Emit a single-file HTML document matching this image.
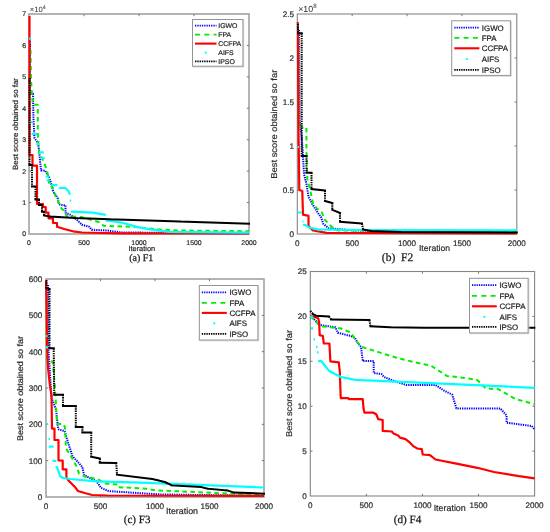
<!DOCTYPE html>
<html><head><meta charset="utf-8"><style>
html,body{margin:0;padding:0;background:#fff;}
body{width:550px;height:532px;overflow:hidden;font-family:"Liberation Sans", sans-serif;}
svg{display:block;will-change:transform;text-rendering:geometricPrecision;}
</style></head><body>
<svg width="550" height="532" viewBox="0 0 550 532">
<rect width="550" height="532" fill="#fff"/>
<clipPath id="c1"><rect x="28" y="13" width="222" height="222"/></clipPath>
<rect x="29" y="14" width="220" height="220" fill="none" stroke="#a2a2a2" stroke-width="1.6"/>
<text x="29" y="244.6" font-size="6.9" text-anchor="middle" font-family='"Liberation Sans", sans-serif' fill="#2a2a2a" stroke="#2a2a2a" stroke-width="0.2" >0</text>
<line x1="84" y1="234" x2="84" y2="231.8" stroke="#777" stroke-width="1"/>
<line x1="84" y1="14" x2="84" y2="16.2" stroke="#777" stroke-width="1"/>
<text x="84" y="244.6" font-size="6.9" text-anchor="middle" font-family='"Liberation Sans", sans-serif' fill="#2a2a2a" stroke="#2a2a2a" stroke-width="0.2" >500</text>
<line x1="139" y1="234" x2="139" y2="231.8" stroke="#777" stroke-width="1"/>
<line x1="139" y1="14" x2="139" y2="16.2" stroke="#777" stroke-width="1"/>
<text x="139" y="244.6" font-size="6.9" text-anchor="middle" font-family='"Liberation Sans", sans-serif' fill="#2a2a2a" stroke="#2a2a2a" stroke-width="0.2" >1000</text>
<line x1="194" y1="234" x2="194" y2="231.8" stroke="#777" stroke-width="1"/>
<line x1="194" y1="14" x2="194" y2="16.2" stroke="#777" stroke-width="1"/>
<text x="194" y="244.6" font-size="6.9" text-anchor="middle" font-family='"Liberation Sans", sans-serif' fill="#2a2a2a" stroke="#2a2a2a" stroke-width="0.2" >1500</text>
<text x="249" y="244.6" font-size="6.9" text-anchor="middle" font-family='"Liberation Sans", sans-serif' fill="#2a2a2a" stroke="#2a2a2a" stroke-width="0.2" >2000</text>
<text x="26.2" y="236.48" font-size="6.9" text-anchor="end" font-family='"Liberation Sans", sans-serif' fill="#2a2a2a" stroke="#2a2a2a" stroke-width="0.2" >0</text>
<line x1="29" y1="202.57" x2="31.2" y2="202.57" stroke="#777" stroke-width="1"/>
<line x1="249" y1="202.57" x2="246.8" y2="202.57" stroke="#777" stroke-width="1"/>
<text x="26.2" y="205.06" font-size="6.9" text-anchor="end" font-family='"Liberation Sans", sans-serif' fill="#2a2a2a" stroke="#2a2a2a" stroke-width="0.2" >1</text>
<line x1="29" y1="171.14" x2="31.2" y2="171.14" stroke="#777" stroke-width="1"/>
<line x1="249" y1="171.14" x2="246.8" y2="171.14" stroke="#777" stroke-width="1"/>
<text x="26.2" y="173.63" font-size="6.9" text-anchor="end" font-family='"Liberation Sans", sans-serif' fill="#2a2a2a" stroke="#2a2a2a" stroke-width="0.2" >2</text>
<line x1="29" y1="139.71" x2="31.2" y2="139.71" stroke="#777" stroke-width="1"/>
<line x1="249" y1="139.71" x2="246.8" y2="139.71" stroke="#777" stroke-width="1"/>
<text x="26.2" y="142.2" font-size="6.9" text-anchor="end" font-family='"Liberation Sans", sans-serif' fill="#2a2a2a" stroke="#2a2a2a" stroke-width="0.2" >3</text>
<line x1="29" y1="108.29" x2="31.2" y2="108.29" stroke="#777" stroke-width="1"/>
<line x1="249" y1="108.29" x2="246.8" y2="108.29" stroke="#777" stroke-width="1"/>
<text x="26.2" y="110.77" font-size="6.9" text-anchor="end" font-family='"Liberation Sans", sans-serif' fill="#2a2a2a" stroke="#2a2a2a" stroke-width="0.2" >4</text>
<line x1="29" y1="76.86" x2="31.2" y2="76.86" stroke="#777" stroke-width="1"/>
<line x1="249" y1="76.86" x2="246.8" y2="76.86" stroke="#777" stroke-width="1"/>
<text x="26.2" y="79.34" font-size="6.9" text-anchor="end" font-family='"Liberation Sans", sans-serif' fill="#2a2a2a" stroke="#2a2a2a" stroke-width="0.2" >5</text>
<line x1="29" y1="45.43" x2="31.2" y2="45.43" stroke="#777" stroke-width="1"/>
<line x1="249" y1="45.43" x2="246.8" y2="45.43" stroke="#777" stroke-width="1"/>
<text x="26.2" y="47.91" font-size="6.9" text-anchor="end" font-family='"Liberation Sans", sans-serif' fill="#2a2a2a" stroke="#2a2a2a" stroke-width="0.2" >6</text>
<text x="26.2" y="16.48" font-size="6.9" text-anchor="end" font-family='"Liberation Sans", sans-serif' fill="#2a2a2a" stroke="#2a2a2a" stroke-width="0.2" >7</text>
<g clip-path="url(#c1)" fill="none" stroke-linejoin="round">
<path d="M30,39 L30,93.8 L33,93.8 L33.5,120 L34.5,138 L38,143 L39,150 L41,170.4 L45,170.4 L49.4,177.9 L52.3,187.3 L53.2,192 L55,193.9 L57.9,198.6 L58.8,204.2 L62.6,205.2 L65.5,205.2 L65.5,212.7 L70.9,215 L77.5,220.4 L81.8,224.7 L89.5,226.9 L91.6,229.7 L106.9,230.5 L121.1,232.4 L180,233 L249,233.3" stroke="#0000ff" stroke-width="2" stroke-dasharray="1.3 1"/>
<path d="M30.5,50 L31,80 L32,95 L33,104.7 L37.8,104.7 L37.8,135 L39.1,152.6 L43.8,162 L46.6,169.5 L48.5,177 L49.4,186 L52.3,187 L55,195 L57.9,200.5 L61.7,208.9 L64.5,210.8 L66.5,216 L81.8,217.1 L100.4,222.5 L103.6,225.8 L134.2,226.9 L147.3,228.4 L162.6,229.7 L180,230.5 L249,231.2" stroke="#00ee00" stroke-width="2" stroke-dasharray="4.5 3.5"/>
<path d="M29.5,16 L29.5,155 L32.5,155 L32.5,165.7 L37,165.7 L37,204 L43,204 L43,207 L45.7,207 L45.7,212.7 L48.5,212.7 L48.5,218.3 L53,218.3 L53,223 L57,223 L57,226.8 L65,229.3 L73,231.3 L82,232.5 L120,233.3 L249,233.5" stroke="#ff0000" stroke-width="2.2"/>
<path d="M29,38.6 L31,38.6 M29.5,122.2 L32.5,122.2 M31.6,134 L37.2,134 M36.3,143.8 L39.1,143.8 M39.1,152.3 L43.8,152.3 M41,158 L44.7,158 M45.7,176.7 L49.4,176.7 M46.6,180.5 L49.4,180.5 M51.3,185.2 L57.5,185.2 M58.8,188 L65.4,188 L68.5,191 L70,194.6 M69.8,200.7 L71.2,200.7 M70.9,211.6 L92.7,212.7 L105.8,214.9 M105.8,220.4 L121.1,222.5 L129.8,224.7 L136.4,226.9 L151.6,229.7 L169.1,231.8 L249,232.7" stroke="#00ffff" stroke-width="2.2"/>
<path d="M29.5,78 L29.5,165 M32,165 L32,186.4 M35.5,186.4 L35.5,199.5 M39,199.5 L39,205 M42,205 L42,211.8 M44,211.8 L44,215.5" stroke="#000" stroke-width="2" stroke-dasharray="1.4 0.9"/>
<path d="M29.5,165 L32,165 M32,186.4 L35.5,186.4 M35.5,199.5 L39,199.5 M39,205 L42,205 M42,211.8 L44,211.8 M44,215.5 L44,215.5 M44,215.5 L50,216.5 M50,216.5 L75,218 M75,218 L110,219.3 M110,219.3 L180,221.5 M180,221.5 L249,223.8" stroke="#000" stroke-width="2" stroke-linecap="square"/>
</g>
<text x="141.8" y="251.4" font-size="7.4" text-anchor="middle" font-family='"Liberation Sans", sans-serif' fill="#2a2a2a" stroke="#2a2a2a" stroke-width="0.2" >Iteration</text>
<text x="0" y="0" font-size="7.6" text-anchor="middle" font-family='"Liberation Sans", sans-serif' fill="#2a2a2a" stroke="#2a2a2a" stroke-width="0.2" transform="translate(17.8,124) rotate(-90)" textLength="92" lengthAdjust="spacingAndGlyphs">Best score obtained so far</text>
<text x="141.3" y="261.4" font-size="10" text-anchor="middle" font-family='"Liberation Serif", serif' fill="#1a1a1a" stroke="#1a1a1a" stroke-width="0.25" xml:space="preserve">(a) F1</text>
<text x="29.8" y="11.6" font-size="7.6" font-family='"Liberation Sans", sans-serif' fill="#2a2a2a">&#215;10<tspan dy="-3.04" font-size="5.32">4</tspan></text>
<rect x="193.3" y="20.3" width="50.4" height="46.7" fill="none" stroke="#d0d0d0" stroke-width="1"/>
<rect x="192.5" y="19.5" width="50.4" height="46.7" fill="#fff" stroke="#949494" stroke-width="1"/>
<line x1="195" y1="25.6" x2="216.5" y2="25.6" stroke="#0000ff" stroke-width="1.8" stroke-dasharray="1.3 1"/>
<line x1="195" y1="34.6" x2="216.5" y2="34.6" stroke="#00ee00" stroke-width="1.8" stroke-dasharray="5 4.3"/>
<line x1="195" y1="43.6" x2="216.5" y2="43.6" stroke="#ff0000" stroke-width="2.1"/>
<rect x="204.75" y="51.6" width="2" height="2" fill="#00ffff"/>
<line x1="195" y1="61.4" x2="216.5" y2="61.4" stroke="#000" stroke-width="1.8" stroke-dasharray="1.4 0.9"/>
<text x="218.3" y="28.08" font-size="6.9" text-anchor="start" font-family='"Liberation Sans", sans-serif' fill="#222" stroke="#222" stroke-width="0.2" >IGWO</text>
<text x="218.3" y="37.08" font-size="6.9" text-anchor="start" font-family='"Liberation Sans", sans-serif' fill="#222" stroke="#222" stroke-width="0.2" >FPA</text>
<text x="218.3" y="46.08" font-size="6.9" text-anchor="start" font-family='"Liberation Sans", sans-serif' fill="#222" stroke="#222" stroke-width="0.2" >CCFPA</text>
<text x="218.3" y="55.08" font-size="6.9" text-anchor="start" font-family='"Liberation Sans", sans-serif' fill="#222" stroke="#222" stroke-width="0.2" >AIFS</text>
<text x="218.3" y="63.88" font-size="6.9" text-anchor="start" font-family='"Liberation Sans", sans-serif' fill="#222" stroke="#222" stroke-width="0.2" >IPSO</text>
<clipPath id="c2"><rect x="296.3" y="13" width="221.5" height="222"/></clipPath>
<rect x="297.3" y="14" width="219.5" height="220" fill="none" stroke="#858585" stroke-width="1.1"/>
<text x="297.3" y="246.1" font-size="8.1" text-anchor="middle" font-family='"Liberation Sans", sans-serif' fill="#2a2a2a" stroke="#2a2a2a" stroke-width="0.2" >0</text>
<line x1="352.18" y1="234" x2="352.18" y2="231.8" stroke="#777" stroke-width="1"/>
<line x1="352.18" y1="14" x2="352.18" y2="16.2" stroke="#777" stroke-width="1"/>
<text x="352.18" y="246.1" font-size="8.1" text-anchor="middle" font-family='"Liberation Sans", sans-serif' fill="#2a2a2a" stroke="#2a2a2a" stroke-width="0.2" >500</text>
<line x1="407.05" y1="234" x2="407.05" y2="231.8" stroke="#777" stroke-width="1"/>
<line x1="407.05" y1="14" x2="407.05" y2="16.2" stroke="#777" stroke-width="1"/>
<text x="407.05" y="246.1" font-size="8.1" text-anchor="middle" font-family='"Liberation Sans", sans-serif' fill="#2a2a2a" stroke="#2a2a2a" stroke-width="0.2" >1000</text>
<line x1="461.92" y1="234" x2="461.92" y2="231.8" stroke="#777" stroke-width="1"/>
<line x1="461.92" y1="14" x2="461.92" y2="16.2" stroke="#777" stroke-width="1"/>
<text x="461.92" y="246.1" font-size="8.1" text-anchor="middle" font-family='"Liberation Sans", sans-serif' fill="#2a2a2a" stroke="#2a2a2a" stroke-width="0.2" >1500</text>
<text x="516.8" y="246.1" font-size="8.1" text-anchor="middle" font-family='"Liberation Sans", sans-serif' fill="#2a2a2a" stroke="#2a2a2a" stroke-width="0.2" >2000</text>
<text x="294" y="236.92" font-size="8.1" text-anchor="end" font-family='"Liberation Sans", sans-serif' fill="#2a2a2a" stroke="#2a2a2a" stroke-width="0.2" >0</text>
<line x1="297.3" y1="190" x2="299.5" y2="190" stroke="#777" stroke-width="1"/>
<line x1="516.8" y1="190" x2="514.6" y2="190" stroke="#777" stroke-width="1"/>
<text x="294" y="192.92" font-size="8.1" text-anchor="end" font-family='"Liberation Sans", sans-serif' fill="#2a2a2a" stroke="#2a2a2a" stroke-width="0.2" >0.5</text>
<line x1="297.3" y1="146" x2="299.5" y2="146" stroke="#777" stroke-width="1"/>
<line x1="516.8" y1="146" x2="514.6" y2="146" stroke="#777" stroke-width="1"/>
<text x="294" y="148.92" font-size="8.1" text-anchor="end" font-family='"Liberation Sans", sans-serif' fill="#2a2a2a" stroke="#2a2a2a" stroke-width="0.2" >1</text>
<line x1="297.3" y1="102" x2="299.5" y2="102" stroke="#777" stroke-width="1"/>
<line x1="516.8" y1="102" x2="514.6" y2="102" stroke="#777" stroke-width="1"/>
<text x="294" y="104.92" font-size="8.1" text-anchor="end" font-family='"Liberation Sans", sans-serif' fill="#2a2a2a" stroke="#2a2a2a" stroke-width="0.2" >1.5</text>
<line x1="297.3" y1="58" x2="299.5" y2="58" stroke="#777" stroke-width="1"/>
<line x1="516.8" y1="58" x2="514.6" y2="58" stroke="#777" stroke-width="1"/>
<text x="294" y="60.92" font-size="8.1" text-anchor="end" font-family='"Liberation Sans", sans-serif' fill="#2a2a2a" stroke="#2a2a2a" stroke-width="0.2" >2</text>
<text x="294" y="16.92" font-size="8.1" text-anchor="end" font-family='"Liberation Sans", sans-serif' fill="#2a2a2a" stroke="#2a2a2a" stroke-width="0.2" >2.5</text>
<g clip-path="url(#c2)" fill="none" stroke-linejoin="round">
<path d="M299,30 L299.5,120 L301.8,138 L303,156 L304,174 L306.3,183.2 L308.5,196.7 L312,203.5 L317.6,212.5 L321,217 L323.2,223.8 L328.8,228.3 L355,230.5 L517,232.5" stroke="#0000ff" stroke-width="2" stroke-dasharray="1.3 1"/>
<path d="M298.5,40 L298.5,127.6 L306.4,127.6 L306.4,150 L307.4,181 L309.7,187.7 L313,203.5 L316.4,208 L322,212.5 L324.3,219.3 L328.8,223.8 L335,230 L340,230.5 L517,231.5" stroke="#00ee00" stroke-width="2" stroke-dasharray="4.5 3.5"/>
<path d="M297.8,22 L298.5,130 L299.3,190 L302.3,191 L303,214.7 L308.5,215.8 L308.5,226 L313,230.5 L326.5,232.8 L517,233.5" stroke="#ff0000" stroke-width="2.2"/>
<path d="M297.5,26 L299,26 M297.5,147 L299,147 M297.5,212.5 L301.8,212.5 M302.4,221.5 L303.4,221.5 M302.9,224.9 L305.2,224.9 L308.5,227.2 L317.6,229.4 L355,230 L517,230.4" stroke="#00ffff" stroke-width="2.2"/>
<path d="M298,24 L298,33.3 M301.7,33.3 L301.7,156 M306.5,156 L306.5,172.7 M311.5,172.7 L311.5,189 M325,190.5 L325,201 M332.3,203 L332.3,209.8 M340,213 L340,221.8 M362,223.5 L363,229.5" stroke="#000" stroke-width="2" stroke-dasharray="1.4 0.9"/>
<path d="M298,33.3 L301.7,33.3 M301.7,156 L306.5,156 M306.5,172.7 L311.5,172.7 M311.5,189 L311.5,189 M311.5,189 L325,190.5 M325,201 L332.3,203 M332.3,209.8 L340,213 M340,221.8 L362,223.5 M363,229.5 L371,231 M371,231 L400,232 M400,232 L517,232.6" stroke="#000" stroke-width="2" stroke-linecap="square"/>
</g>
<text x="434.5" y="250.8" font-size="8.6" text-anchor="middle" font-family='"Liberation Sans", sans-serif' fill="#2a2a2a" stroke="#2a2a2a" stroke-width="0.2" >Iteration</text>
<text x="0" y="0" font-size="8.6" text-anchor="middle" font-family='"Liberation Sans", sans-serif' fill="#2a2a2a" stroke="#2a2a2a" stroke-width="0.2" transform="translate(277.2,124.2) rotate(-90)" textLength="109" lengthAdjust="spacingAndGlyphs">Best score obtained so far</text>
<text x="397.5" y="261" font-size="11.5" text-anchor="middle" font-family='"Liberation Serif", serif' fill="#1a1a1a" stroke="#1a1a1a" stroke-width="0.25" xml:space="preserve">(b)  F2</text>
<text x="298.2" y="11.8" font-size="8.8" font-family='"Liberation Sans", sans-serif' fill="#2a2a2a">&#215;10<tspan dy="-3.52" font-size="6.16">8</tspan></text>
<rect x="452.5" y="21.6" width="58.7" height="54.6" fill="none" stroke="#d0d0d0" stroke-width="1"/>
<rect x="451.7" y="20.8" width="58.7" height="54.6" fill="#fff" stroke="#949494" stroke-width="1"/>
<line x1="454.3" y1="27.7" x2="479.4" y2="27.7" stroke="#0000ff" stroke-width="1.8" stroke-dasharray="1.3 1"/>
<line x1="454.3" y1="37.8" x2="479.4" y2="37.8" stroke="#00ee00" stroke-width="1.8" stroke-dasharray="5 4.3"/>
<line x1="454.3" y1="48.3" x2="479.4" y2="48.3" stroke="#ff0000" stroke-width="2.1"/>
<rect x="465.85" y="57.9" width="2" height="2" fill="#00ffff"/>
<line x1="454.3" y1="69.8" x2="479.4" y2="69.8" stroke="#000" stroke-width="1.8" stroke-dasharray="1.4 0.9"/>
<text x="481.8" y="30.54" font-size="7.9" text-anchor="start" font-family='"Liberation Sans", sans-serif' fill="#222" stroke="#222" stroke-width="0.2" >IGWO</text>
<text x="481.8" y="40.64" font-size="7.9" text-anchor="start" font-family='"Liberation Sans", sans-serif' fill="#222" stroke="#222" stroke-width="0.2" >FPA</text>
<text x="481.8" y="51.14" font-size="7.9" text-anchor="start" font-family='"Liberation Sans", sans-serif' fill="#222" stroke="#222" stroke-width="0.2" >CCFPA</text>
<text x="481.8" y="61.74" font-size="7.9" text-anchor="start" font-family='"Liberation Sans", sans-serif' fill="#222" stroke="#222" stroke-width="0.2" >AIFS</text>
<text x="481.8" y="72.64" font-size="7.9" text-anchor="start" font-family='"Liberation Sans", sans-serif' fill="#222" stroke="#222" stroke-width="0.2" >IPSO</text>
<clipPath id="c3"><rect x="45" y="278" width="220" height="220"/></clipPath>
<rect x="46" y="279" width="218" height="218" fill="none" stroke="#a2a2a2" stroke-width="1.6"/>
<text x="46" y="509.3" font-size="8.1" text-anchor="middle" font-family='"Liberation Sans", sans-serif' fill="#2a2a2a" stroke="#2a2a2a" stroke-width="0.2" >0</text>
<line x1="100.5" y1="497" x2="100.5" y2="494.8" stroke="#777" stroke-width="1"/>
<line x1="100.5" y1="279" x2="100.5" y2="281.2" stroke="#777" stroke-width="1"/>
<text x="100.5" y="509.3" font-size="8.1" text-anchor="middle" font-family='"Liberation Sans", sans-serif' fill="#2a2a2a" stroke="#2a2a2a" stroke-width="0.2" >500</text>
<line x1="155" y1="497" x2="155" y2="494.8" stroke="#777" stroke-width="1"/>
<line x1="155" y1="279" x2="155" y2="281.2" stroke="#777" stroke-width="1"/>
<text x="155" y="509.3" font-size="8.1" text-anchor="middle" font-family='"Liberation Sans", sans-serif' fill="#2a2a2a" stroke="#2a2a2a" stroke-width="0.2" >1000</text>
<line x1="209.5" y1="497" x2="209.5" y2="494.8" stroke="#777" stroke-width="1"/>
<line x1="209.5" y1="279" x2="209.5" y2="281.2" stroke="#777" stroke-width="1"/>
<text x="209.5" y="509.3" font-size="8.1" text-anchor="middle" font-family='"Liberation Sans", sans-serif' fill="#2a2a2a" stroke="#2a2a2a" stroke-width="0.2" >1500</text>
<text x="264" y="509.3" font-size="8.1" text-anchor="middle" font-family='"Liberation Sans", sans-serif' fill="#2a2a2a" stroke="#2a2a2a" stroke-width="0.2" >2000</text>
<text x="42.3" y="499.92" font-size="8.1" text-anchor="end" font-family='"Liberation Sans", sans-serif' fill="#2a2a2a" stroke="#2a2a2a" stroke-width="0.2" >0</text>
<line x1="46" y1="460.67" x2="48.2" y2="460.67" stroke="#777" stroke-width="1"/>
<line x1="264" y1="460.67" x2="261.8" y2="460.67" stroke="#777" stroke-width="1"/>
<text x="42.3" y="463.58" font-size="8.1" text-anchor="end" font-family='"Liberation Sans", sans-serif' fill="#2a2a2a" stroke="#2a2a2a" stroke-width="0.2" >100</text>
<line x1="46" y1="424.33" x2="48.2" y2="424.33" stroke="#777" stroke-width="1"/>
<line x1="264" y1="424.33" x2="261.8" y2="424.33" stroke="#777" stroke-width="1"/>
<text x="42.3" y="427.25" font-size="8.1" text-anchor="end" font-family='"Liberation Sans", sans-serif' fill="#2a2a2a" stroke="#2a2a2a" stroke-width="0.2" >200</text>
<line x1="46" y1="388" x2="48.2" y2="388" stroke="#777" stroke-width="1"/>
<line x1="264" y1="388" x2="261.8" y2="388" stroke="#777" stroke-width="1"/>
<text x="42.3" y="390.92" font-size="8.1" text-anchor="end" font-family='"Liberation Sans", sans-serif' fill="#2a2a2a" stroke="#2a2a2a" stroke-width="0.2" >300</text>
<line x1="46" y1="351.67" x2="48.2" y2="351.67" stroke="#777" stroke-width="1"/>
<line x1="264" y1="351.67" x2="261.8" y2="351.67" stroke="#777" stroke-width="1"/>
<text x="42.3" y="354.58" font-size="8.1" text-anchor="end" font-family='"Liberation Sans", sans-serif' fill="#2a2a2a" stroke="#2a2a2a" stroke-width="0.2" >400</text>
<line x1="46" y1="315.33" x2="48.2" y2="315.33" stroke="#777" stroke-width="1"/>
<line x1="264" y1="315.33" x2="261.8" y2="315.33" stroke="#777" stroke-width="1"/>
<text x="42.3" y="318.25" font-size="8.1" text-anchor="end" font-family='"Liberation Sans", sans-serif' fill="#2a2a2a" stroke="#2a2a2a" stroke-width="0.2" >500</text>
<text x="42.3" y="281.92" font-size="8.1" text-anchor="end" font-family='"Liberation Sans", sans-serif' fill="#2a2a2a" stroke="#2a2a2a" stroke-width="0.2" >600</text>
<g clip-path="url(#c3)" fill="none" stroke-linejoin="round">
<path d="M48,285 L48.5,350 L51.4,397.6 L56.1,409.8 L58,428 L58.9,429.5 L64.6,431 L68.2,443 L72.5,456.2 L82.4,467 L84,475 L96.5,481.3 L101,487.8 L108.5,491.1 L129.3,492.5 L162,494.5 L264,495.8" stroke="#0000ff" stroke-width="2" stroke-dasharray="1.3 1"/>
<path d="M46.5,300 L47,360 L53,362 L55.2,392 L57,423.9 L63,423.9 L64.9,427 L66,448.5 L70.4,455.1 L76.9,467.1 L79,473.6 L85.6,476.9 L97.6,479.1 L105,483.5 L117.5,484.5 L118,487.1 L145.7,488.7 L155.4,490.4 L194.7,492 L227.4,493.6 L264,494.6" stroke="#00ee00" stroke-width="2" stroke-dasharray="4.5 3.5"/>
<path d="M46,280.6 L46.5,300 L47,345 L48,368 L50,386 L51.5,395 L52,428.6 L54.5,428.6 L54.5,440 L58.5,440 L58.5,460.5 L62.7,460.5 L62.7,469.3 L66.4,469.3 L66.4,477 L68.2,480.2 L74.7,486.7 L78,491 L85.6,493.3 L92.2,495 L107.5,495.5 L264,496" stroke="#ff0000" stroke-width="2.2"/>
<path d="M46,336 L47.5,336 M46,347.4 L48,347.4 M46.5,424 L48,424 M48.5,439 L50,439 M48.8,446.7 L53.5,446.7 M52.5,460.8 L56.3,460.8 M55.5,467 L57,467 L60,476 L63,478 L70,479 L96.5,481.3 L140,482.6 L264,487.5" stroke="#00ffff" stroke-width="2.2"/>
<path d="M46.5,280 L46.5,288 M49.5,289 L49.5,348.3 M53.7,348.3 L54.2,394.8 M63,394.8 L63,406 M75.8,406 L75.8,427 M82.4,427 L82.4,432.4 M91.2,432.4 L91.2,456.8 M99.8,458.5 L99.8,462.7 M116.2,463 L117,474.7" stroke="#000" stroke-width="2" stroke-dasharray="1.4 0.9"/>
<path d="M46.5,288 L49.5,289 M49.5,348.3 L53.7,348.3 M54.2,394.8 L63,394.8 M63,406 L75.8,406 M75.8,427 L82.4,427 M82.4,432.4 L91.2,432.4 M91.2,456.8 L99.8,458.5 M99.8,462.7 L116.2,463 M117,474.7 L117,474.7 M117,474.7 L152.2,478.9 M152.2,478.9 L158.7,480.5 M158.7,480.5 L165.3,482.2 M165.3,482.2 L171.8,485.4 M171.8,485.4 L201.3,487.1 M201.3,487.1 L207.8,488.7 M207.8,488.7 L227.4,490.4 M227.4,490.4 L234,492.6 M234,492.6 L264,493.6" stroke="#000" stroke-width="2" stroke-linecap="square"/>
</g>
<text x="182" y="514.2" font-size="8.9" text-anchor="middle" font-family='"Liberation Sans", sans-serif' fill="#2a2a2a" stroke="#2a2a2a" stroke-width="0.2" >Iteration</text>
<text x="0" y="0" font-size="8.3" text-anchor="middle" font-family='"Liberation Sans", sans-serif' fill="#2a2a2a" stroke="#2a2a2a" stroke-width="0.2" transform="translate(23.3,388.5) rotate(-90)" textLength="105" lengthAdjust="spacingAndGlyphs">Best score obtained so far</text>
<text x="137.1" y="522.6" font-size="11.1" text-anchor="middle" font-family='"Liberation Serif", serif' fill="#1a1a1a" stroke="#1a1a1a" stroke-width="0.25" xml:space="preserve">(c) F3</text>
<rect x="200.1" y="286.3" width="58.6" height="54.5" fill="none" stroke="#d0d0d0" stroke-width="1"/>
<rect x="199.3" y="285.5" width="58.6" height="54.5" fill="#fff" stroke="#949494" stroke-width="1"/>
<line x1="201.8" y1="292.3" x2="226.8" y2="292.3" stroke="#0000ff" stroke-width="1.8" stroke-dasharray="1.3 1"/>
<line x1="201.8" y1="302.8" x2="226.8" y2="302.8" stroke="#00ee00" stroke-width="1.8" stroke-dasharray="5 4.3"/>
<line x1="201.8" y1="312.9" x2="226.8" y2="312.9" stroke="#ff0000" stroke-width="2.1"/>
<rect x="213.3" y="322.4" width="2" height="2" fill="#00ffff"/>
<line x1="201.8" y1="333.9" x2="226.8" y2="333.9" stroke="#000" stroke-width="1.8" stroke-dasharray="1.4 0.9"/>
<text x="229.4" y="295.14" font-size="7.9" text-anchor="start" font-family='"Liberation Sans", sans-serif' fill="#222" stroke="#222" stroke-width="0.2" >IGWO</text>
<text x="229.4" y="305.64" font-size="7.9" text-anchor="start" font-family='"Liberation Sans", sans-serif' fill="#222" stroke="#222" stroke-width="0.2" >FPA</text>
<text x="229.4" y="315.74" font-size="7.9" text-anchor="start" font-family='"Liberation Sans", sans-serif' fill="#222" stroke="#222" stroke-width="0.2" >CCFPA</text>
<text x="229.4" y="326.24" font-size="7.9" text-anchor="start" font-family='"Liberation Sans", sans-serif' fill="#222" stroke="#222" stroke-width="0.2" >AIFS</text>
<text x="229.4" y="336.74" font-size="7.9" text-anchor="start" font-family='"Liberation Sans", sans-serif' fill="#222" stroke="#222" stroke-width="0.2" >IPSO</text>
<clipPath id="c4"><rect x="309.3" y="270.5" width="226.3" height="226.5"/></clipPath>
<rect x="310.3" y="271.5" width="224.3" height="224.5" fill="none" stroke="#858585" stroke-width="1.1"/>
<text x="310.3" y="507.6" font-size="8.1" text-anchor="middle" font-family='"Liberation Sans", sans-serif' fill="#2a2a2a" stroke="#2a2a2a" stroke-width="0.2" >0</text>
<line x1="366.38" y1="496" x2="366.38" y2="493.8" stroke="#777" stroke-width="1"/>
<line x1="366.38" y1="271.5" x2="366.38" y2="273.7" stroke="#777" stroke-width="1"/>
<text x="366.38" y="507.6" font-size="8.1" text-anchor="middle" font-family='"Liberation Sans", sans-serif' fill="#2a2a2a" stroke="#2a2a2a" stroke-width="0.2" >500</text>
<line x1="422.45" y1="496" x2="422.45" y2="493.8" stroke="#777" stroke-width="1"/>
<line x1="422.45" y1="271.5" x2="422.45" y2="273.7" stroke="#777" stroke-width="1"/>
<text x="422.45" y="507.6" font-size="8.1" text-anchor="middle" font-family='"Liberation Sans", sans-serif' fill="#2a2a2a" stroke="#2a2a2a" stroke-width="0.2" >1000</text>
<line x1="478.53" y1="496" x2="478.53" y2="493.8" stroke="#777" stroke-width="1"/>
<line x1="478.53" y1="271.5" x2="478.53" y2="273.7" stroke="#777" stroke-width="1"/>
<text x="478.53" y="507.6" font-size="8.1" text-anchor="middle" font-family='"Liberation Sans", sans-serif' fill="#2a2a2a" stroke="#2a2a2a" stroke-width="0.2" >1500</text>
<text x="534.6" y="507.6" font-size="8.1" text-anchor="middle" font-family='"Liberation Sans", sans-serif' fill="#2a2a2a" stroke="#2a2a2a" stroke-width="0.2" >2000</text>
<text x="306.8" y="498.92" font-size="8.1" text-anchor="end" font-family='"Liberation Sans", sans-serif' fill="#2a2a2a" stroke="#2a2a2a" stroke-width="0.2" >0</text>
<line x1="310.3" y1="451.1" x2="312.5" y2="451.1" stroke="#777" stroke-width="1"/>
<line x1="534.6" y1="451.1" x2="532.4" y2="451.1" stroke="#777" stroke-width="1"/>
<text x="306.8" y="454.02" font-size="8.1" text-anchor="end" font-family='"Liberation Sans", sans-serif' fill="#2a2a2a" stroke="#2a2a2a" stroke-width="0.2" >5</text>
<line x1="310.3" y1="406.2" x2="312.5" y2="406.2" stroke="#777" stroke-width="1"/>
<line x1="534.6" y1="406.2" x2="532.4" y2="406.2" stroke="#777" stroke-width="1"/>
<text x="306.8" y="409.12" font-size="8.1" text-anchor="end" font-family='"Liberation Sans", sans-serif' fill="#2a2a2a" stroke="#2a2a2a" stroke-width="0.2" >10</text>
<line x1="310.3" y1="361.3" x2="312.5" y2="361.3" stroke="#777" stroke-width="1"/>
<line x1="534.6" y1="361.3" x2="532.4" y2="361.3" stroke="#777" stroke-width="1"/>
<text x="306.8" y="364.22" font-size="8.1" text-anchor="end" font-family='"Liberation Sans", sans-serif' fill="#2a2a2a" stroke="#2a2a2a" stroke-width="0.2" >15</text>
<line x1="310.3" y1="316.4" x2="312.5" y2="316.4" stroke="#777" stroke-width="1"/>
<line x1="534.6" y1="316.4" x2="532.4" y2="316.4" stroke="#777" stroke-width="1"/>
<text x="306.8" y="319.32" font-size="8.1" text-anchor="end" font-family='"Liberation Sans", sans-serif' fill="#2a2a2a" stroke="#2a2a2a" stroke-width="0.2" >20</text>
<text x="306.8" y="274.42" font-size="8.1" text-anchor="end" font-family='"Liberation Sans", sans-serif' fill="#2a2a2a" stroke="#2a2a2a" stroke-width="0.2" >25</text>
<g clip-path="url(#c4)" fill="none" stroke-linejoin="round">
<path d="M310.5,316 L320.3,325.1 L335.5,327.3 L337.7,332.7 L350.8,336 L355,338 L357.4,342.5 L361,347 L362.8,361.1 L373.7,361.1 L373.7,373.1 L381.4,374 L384,377 L393.4,380.7 L406.2,385 L435.5,385 L443.8,390.5 L452.2,394.6 L456.4,408.4 L500.3,408.4 L506.6,415.5 L506.6,422.7 L531.7,426 L534.6,429.4" stroke="#0000ff" stroke-width="2" stroke-dasharray="1.3 1"/>
<path d="M310.5,316 L320.3,326.2 L341,328.4 L350.8,332.7 L357.4,342.5 L361.7,346.9 L379.2,352.4 L396.6,357.8 L415,362.3 L430.9,365.7 L446.8,375.9 L466.1,378.2 L477.3,380 L485.7,388.4 L498.2,389.2 L514.9,398.8 L534.6,404.3" stroke="#00ee00" stroke-width="2" stroke-dasharray="4.5 3.5"/>
<path d="M310.5,315.8 L318.2,318.2 L319.1,321.9 L319.7,335.1 L322.9,336 L323.8,343.5 L329.4,343.5 L330.4,361.4 L338.8,362.3 L339.8,371.7 L340.7,397.1 L340.9,398.2 L348.2,398.2 L349.1,399.1 L362.7,399.1 L363.6,409.1 L364.5,412.7 L373.6,412.7 L376.4,414.5 L378.2,419.1 L382.7,420 L382.7,430.9 L391.8,431.5 L393.6,433.6 L398.2,435.5 L400,437.6 L405.5,439.1 L410,442.7 L413.6,446.4 L417.3,448.5 L421.8,449.1 L422.7,454.5 L430,455.1 L435.5,459.5 L456.4,463.6 L477.3,467.8 L494,472 L519.1,476.2 L534.6,478.3" stroke="#ff0000" stroke-width="2.2"/>
<path d="M310.5,316 L313,318 M311,328.4 L313,328.4 M313.5,339.3 L315,339.3 M316,346.9 L317.5,346.9 M317,352.4 L318.5,352.4 M318.1,361.1 L321.4,361.1 L322,362 L329,370.9 L340.5,376.8 L355.2,379.8 L430.5,383.1 L534.6,387.8" stroke="#00ffff" stroke-width="2.2"/>
<path d="M310.5,310.9 L311,312 M311,312 L310.5,310.9 M310.5,310.9 L313,314 M329,316.5 L331.2,319.6 M369.4,320.1 L370.5,326.2" stroke="#000" stroke-width="2" stroke-dasharray="1.4 0.9"/>
<path d="M313,314 L316,315.7 M316,315.7 L329,316.5 M331.2,319.6 L369.4,320.1 M370.5,326.2 L390.1,327.3 M390.1,327.3 L425,327.8 M425,327.8 L534.6,327.8" stroke="#000" stroke-width="2" stroke-linecap="square"/>
</g>
<text x="449.7" y="511.3" font-size="8.9" text-anchor="middle" font-family='"Liberation Sans", sans-serif' fill="#2a2a2a" stroke="#2a2a2a" stroke-width="0.2" >Iteration</text>
<text x="0" y="0" font-size="8.5" text-anchor="middle" font-family='"Liberation Sans", sans-serif' fill="#2a2a2a" stroke="#2a2a2a" stroke-width="0.2" transform="translate(292,383.5) rotate(-90)" textLength="107" lengthAdjust="spacingAndGlyphs">Best score obtained so far</text>
<text x="407.5" y="522.8" font-size="11.2" text-anchor="middle" font-family='"Liberation Serif", serif' fill="#1a1a1a" stroke="#1a1a1a" stroke-width="0.25" xml:space="preserve">(d) F4</text>
<rect x="470.3" y="279.1" width="58.6" height="54.6" fill="none" stroke="#d0d0d0" stroke-width="1"/>
<rect x="469.5" y="278.3" width="58.6" height="54.6" fill="#fff" stroke="#949494" stroke-width="1"/>
<line x1="472" y1="285.2" x2="496.8" y2="285.2" stroke="#0000ff" stroke-width="1.8" stroke-dasharray="1.3 1"/>
<line x1="472" y1="295.8" x2="496.8" y2="295.8" stroke="#00ee00" stroke-width="1.8" stroke-dasharray="5 4.3"/>
<line x1="472" y1="306.3" x2="496.8" y2="306.3" stroke="#ff0000" stroke-width="2.1"/>
<rect x="483.4" y="315.8" width="2" height="2" fill="#00ffff"/>
<line x1="472" y1="326.9" x2="496.8" y2="326.9" stroke="#000" stroke-width="1.8" stroke-dasharray="1.4 0.9"/>
<text x="499.4" y="288.04" font-size="7.9" text-anchor="start" font-family='"Liberation Sans", sans-serif' fill="#222" stroke="#222" stroke-width="0.2" >IGWO</text>
<text x="499.4" y="298.64" font-size="7.9" text-anchor="start" font-family='"Liberation Sans", sans-serif' fill="#222" stroke="#222" stroke-width="0.2" >FPA</text>
<text x="499.4" y="309.14" font-size="7.9" text-anchor="start" font-family='"Liberation Sans", sans-serif' fill="#222" stroke="#222" stroke-width="0.2" >CCFPA</text>
<text x="499.4" y="319.64" font-size="7.9" text-anchor="start" font-family='"Liberation Sans", sans-serif' fill="#222" stroke="#222" stroke-width="0.2" >AIFS</text>
<text x="499.4" y="329.74" font-size="7.9" text-anchor="start" font-family='"Liberation Sans", sans-serif' fill="#222" stroke="#222" stroke-width="0.2" >IPSO</text>
</svg>
</body></html>
